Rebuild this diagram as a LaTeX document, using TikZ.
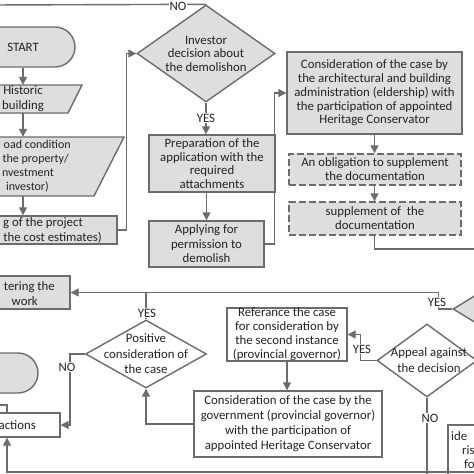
\documentclass[tikz,border=0pt]{standalone}
\usepackage{fontspec}
\setmainfont{Carlito}
\usetikzlibrary{arrows.meta,shapes.geometric}
\definecolor{linecol}{RGB}{108,108,108}
\definecolor{fillcol}{RGB}{222,222,222}
\definecolor{txtcol}{RGB}{35,35,35}
\newcommand{\fs}[1]{\fontsize{12.8}{#1}\selectfont}
\begin{document}
\begin{tikzpicture}[x=1pt,y=-1pt,
  every node/.style={font=\fs{13.8}, text=txtcol},
  box/.style={draw=linecol, line width=1.4pt, fill=fillcol, inner sep=0pt, align=center},
  wbox/.style={box, fill=white},
  dbox/.style={box, dash pattern=on 7pt off 3pt},
  dia/.style={diamond, draw=linecol, line width=1.4pt, fill=fillcol, inner sep=0pt},
  wdia/.style={dia, fill=white},
  lbl/.style={fill=white, inner sep=1pt},
  arr/.style={draw=linecol, line width=1.4pt, -{Triangle[length=8pt,width=8pt]}},
  ln/.style={draw=linecol, line width=1.4pt},
]
\useasboundingbox (0,0) rectangle (474,474);
\clip (0,0) rectangle (474,474);
\fill[white] (0,0) rectangle (474,474);

% parallelograms
\draw[ln, fill=fillcol] (-40,85) -- (82,85) -- (68,113) -- (-54,113) -- cycle;
\draw[ln, fill=fillcol] (-60,137) -- (124,137) -- (94,196) -- (-90,196) -- cycle;

% left column
\node[box, minimum width=104, minimum height=40, rounded corners=20pt] (start) at (23,47) {START};
\node[inner sep=0pt, minimum height=28, align=center, font=\fs{15}] (historic) at (23,99) {Historic\\building};
\node[inner sep=0pt, minimum height=59, align=right, anchor=east, font=\fontsize{12}{14}\selectfont] (road) at (71,166.5) {oad condition\\the property/\rule{2pt}{0pt}\\nvestment\rule{17pt}{0pt}\\investor)\rule{22pt}{0pt}};
\node[box, minimum width=217, minimum height=28] (project) at (8.5,230) {};
\node[inner sep=0pt, anchor=east, align=right, font=\fs{15}] (projtxt) at (102,230.5) {g of the project\rule{19pt}{0pt}\\the cost estimates)};
\node[box, minimum width=200, minimum height=33] (tering) at (-30,292.5) {};
\node[inner sep=0pt, anchor=east, align=right, font=\fs{15}] (tertxt) at (55,293.5) {tering the\\work\rule{17pt}{0pt}};
\node[box, minimum width=136, minimum height=40, rounded corners=20pt] (endt) at (-30,373) {};
\node[wbox, minimum width=200, minimum height=24] (actions) at (-40,425) {};
\node[inner sep=0pt, anchor=east] (acttxt) at (36,425) {actions};

% upper middle
\node[dia, minimum width=138, minimum height=97,
  label={[align=center, font=\fs{13.5}]center:{Investor\\decision about\\the demolishon}}] (investor) at (206,53.5) {};
\node[box, minimum width=126, minimum height=57, font=\fs{13.7}] (prep) at (212,163.5) {Preparation of the\\application with the\\required\\attachments};
\node[box, minimum width=115, minimum height=46, font=\fs{14.5}] (apply) at (206.5,244) {Applying for\\permission to\\demolish};

% upper right
\node[box, minimum width=175, minimum height=82, font=\fs{13.75}] (admin) at (374.5,93) {Consideration of the case by\\the architectural and building\\administration (eldership) with\\the participation of appointed\\Heritage Conservator};
\node[dbox, minimum width=172, minimum height=31, font=\fs{14}] (oblig) at (375,169.5) {An obligation to supplement\\the documentation};
\node[dbox, minimum width=172, minimum height=33, font=\fs{14}] (supp) at (375,218.5) {supplement of\ \ the\\documentation};

% lower part
\node[dia, minimum width=140, minimum height=86] (rdia) at (523,309) {};
\node[wdia, minimum width=121, minimum height=68,
  label={[align=center, font=\fs{15.5}]center:{Positive\\consideration of\\the case}}] (positive) at (146,354) {};
\node[wbox, minimum width=120, minimum height=53, font=\fs{14}] (refer) at (287,334.5) {Referance the case\\for consideration by\\the second instance\\(provincial governor)};
\node[wbox, minimum width=188, minimum height=66, font=\fs{15}] (govt) at (288,424) {Consideration of the case by the\\government (provincial governor)\\with the participation of\\appointed Heritage Conservator};
\node[wdia, minimum width=100, minimum height=73,
  label={[align=center, font=\fs{16}, xshift=2pt]center:{Appeal against\\the decision}}] (appeal) at (427,360.5) {};
\node[wbox, minimum width=144, minimum height=70] (ide) at (520,460) {};
\node[inner sep=0pt, anchor=north west, align=left, font=\fs{14}] (idetxt) at (451,431) {ide\\\rule{11pt}{0pt}ris\\\rule{13pt}{0pt}fo};

% coordinates for free ends
\coordinate (noend) at (-10,5);
\coordinate (suppend) at (480,249);
\coordinate (noend2) at (427,480);
\coordinate (botend) at (480,472);
\coordinate (cx7) at (7,0);
\coordinate (lin) at (-10,405);

% connectors
\draw[ln] (investor.north) -- (noend);
\draw[arr] (start.south) -- (historic.north);
\draw[arr] (historic.south) -- (historic.south |- road.north);
\draw[arr] (historic.south |- road.south) -- (historic.south |- project.north);
\draw[arr] (project.east) -- ++(9,0) |- (investor.west);
\draw[arr] (investor.south) -- (investor.south |- prep.north);
\draw[arr] (apply.north |- prep.south) -- (apply.north);
\draw[arr] (apply.east) -- ++(10,0) |- (admin.west);
\draw[arr] (admin.south) -- (admin.south |- oblig.north);
\draw[arr] (admin.south |- oblig.south) -- (admin.south |- supp.north);
\draw[ln] (admin.south |- supp.south) |- (suppend);
\draw[arr] (rdia.west) -- ++(-14,0) |- (tering.east);
\draw[ln] (positive.north) -- (positive.north |- tering.east);
\draw[arr] (positive.west) -- ++(-15,0) |- (actions.east);
\draw[arr] (refer.south) -- (refer.south |- govt.north);
\draw[arr] (govt.west) -| (positive.south);
\draw[arr] (appeal.west) -- ++(-16,0) |- (refer.east);
\draw[ln] (appeal.south) -- (noend2);
\draw[arr] (botend) -| (actions.south -| cx7);
\draw[ln] (lin) -| (actions.north -| cx7);

% labels
\node[lbl] (no1) at (178,6) {NO};
\node[lbl] (yes1) at (206,118) {YES};
\node[lbl] (yes2) at (437,302) {YES};
\node[lbl] (yes3) at (147,313) {YES};
\node[lbl] (no2) at (67,367) {NO};
\node[lbl] (yes4) at (362,349) {YES};
\node[lbl] (no3) at (430,418) {NO};
\end{tikzpicture}
\end{document}
